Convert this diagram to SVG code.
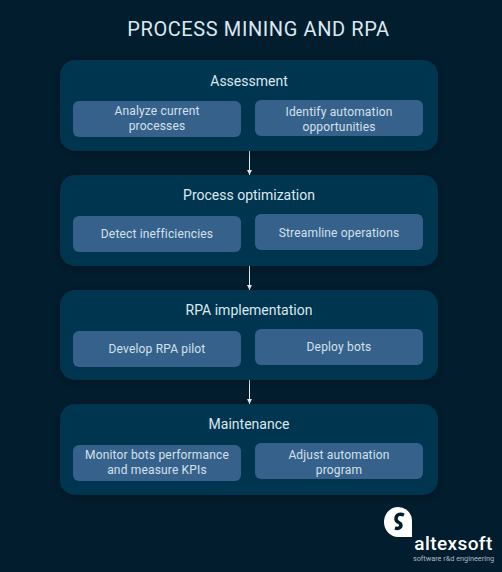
<svg xmlns="http://www.w3.org/2000/svg" width="502" height="572" viewBox="0 0 502 572">
<style>
text{font-family:"Roboto","Liberation Sans",sans-serif;text-anchor:middle}
.p{fill:#013550}
.b{fill:#36618b}
.h{font-size:14px;fill:#dbe8ef;letter-spacing:0}
.t{font-size:12px;fill:#d3e1ec;letter-spacing:.17px}
.c{stroke:#e6edf2;stroke-width:1;fill:none;marker-end:url(#a)}
</style>
<defs>
<marker id="a" markerUnits="userSpaceOnUse" markerWidth="6" markerHeight="6" refX="5" refY="3" orient="auto"><path d="M0 0.500L5 3L0 5.500Z" fill="#e6edf2"/></marker>
<filter id="s" x="-5%" y="-10%" width="110%" height="125%"><feDropShadow dx="0" dy="2" stdDeviation="5" flood-color="#000" flood-opacity=".3"/></filter>
</defs>
<rect width="502" height="572" fill="#021d2e"/>
<text x="258.500" y="36" style="font-size:20px;fill:#dbe8ef;letter-spacing:.6px">PROCESS MINING AND RPA</text>
<g id="connectors">
<path class="c" d="M249.500 151V175"/>
<path class="c" d="M249.500 266V290"/>
<path class="c" d="M249.500 380V404"/>
</g>
<g id="assessment">
<rect class="p" x="60" y="60" width="378" height="91" rx="15" filter="url(#s)"/>
<text class="h" x="249" y="86">Assessment</text>
</g>
<g id="analyze"><rect class="b" x="73" y="101" width="168" height="36" rx="6"/><text class="t" x="157" y="115">Analyze current</text><text class="t" x="157" y="130">processes</text></g>
<g id="identify"><rect class="b" x="255" y="100" width="168" height="36" rx="6"/><text class="t" x="339" y="116">Identify automation</text><text class="t" x="339" y="131">opportunities</text></g>
<g id="optimization">
<rect class="p" x="60" y="175" width="378" height="91" rx="15" filter="url(#s)"/>
<text class="h" x="249" y="200">Process optimization</text>
</g>
<g id="detect"><rect class="b" x="73" y="216" width="168" height="36" rx="6"/><text class="t" x="157" y="238">Detect inefficiencies</text></g>
<g id="streamline"><rect class="b" x="255" y="214" width="168" height="36" rx="6"/><text class="t" x="339" y="237">Streamline operations</text></g>
<g id="implementation">
<rect class="p" x="60" y="290" width="378" height="90" rx="15" filter="url(#s)"/>
<text class="h" x="249" y="315">RPA implementation</text>
</g>
<g id="pilot"><rect class="b" x="73" y="331" width="168" height="36" rx="6"/><text class="t" x="157" y="353">Develop RPA pilot</text></g>
<g id="deploy"><rect class="b" x="255" y="329" width="168" height="36" rx="6"/><text class="t" x="339" y="351">Deploy bots</text></g>
<g id="maintenance">
<rect class="p" x="60" y="404" width="378" height="91" rx="15" filter="url(#s)"/>
<text class="h" x="249" y="429">Maintenance</text>
</g>
<g id="monitor"><rect class="b" x="73" y="445" width="168" height="36" rx="6"/><text class="t" x="157" y="459">Monitor bots performance</text><text class="t" x="157" y="474">and measure KPIs</text></g>
<g id="adjust"><rect class="b" x="255" y="443" width="168" height="36" rx="6"/><text class="t" x="339" y="459">Adjust automation</text><text class="t" x="339" y="474">program</text></g>
<g id="logo">
<path d="M398 507a14 14 0 0 1 14 14v16h-14c-8 0-14-7-14-15s6-15 14-15Z" fill="#fff"/>
<path d="M404 515c-5-2-8 0-8 4s5 3 5 6-3 4-6 3" fill="none" stroke="#021d2e" stroke-width="3.500"/>
<text x="453.500" y="550" style="font-size:19px;font-weight:500;fill:#fff;letter-spacing:.4px">altexsoft</text>
<text x="453.500" y="561" style="font-size:7.300px;fill:#aeb9c1">software r&amp;d engineering</text>
</g>
</svg>
